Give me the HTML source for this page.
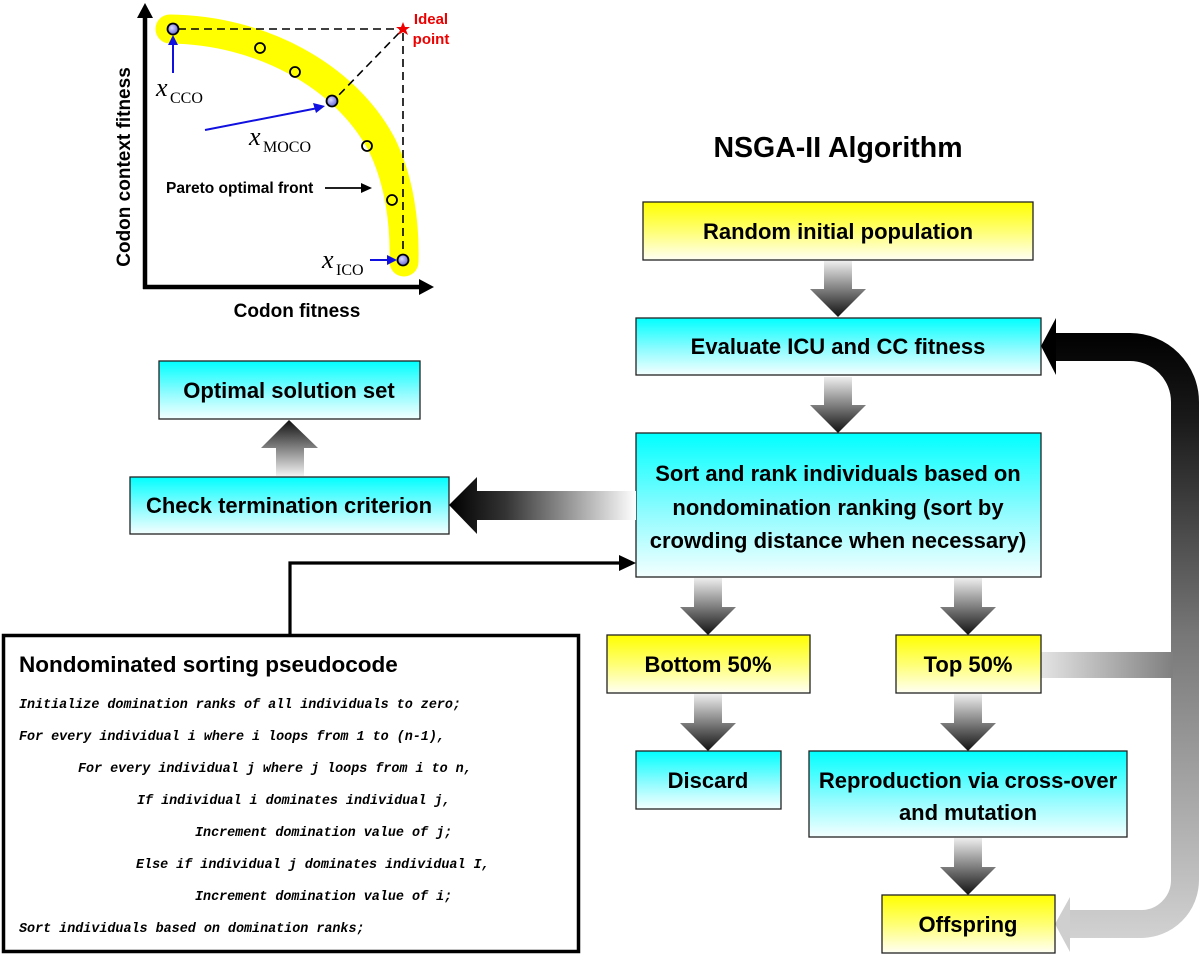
<!DOCTYPE html>
<html><head><meta charset="utf-8"><style>
html,body{margin:0;padding:0;background:#fff;width:1200px;height:955px;overflow:hidden}
svg{position:absolute;left:0;top:0}
text{font-family:"Liberation Sans",Arial,sans-serif}
.b{font-weight:bold;fill:#000}
.code{font-family:"Liberation Mono","Courier New",monospace;font-weight:bold;font-style:italic;font-size:13.4px;fill:#000}
</style></head><body>
<svg width="1200" height="955" viewBox="0 0 1200 955" xmlns="http://www.w3.org/2000/svg">
<defs>
<linearGradient id="cy" x1="0" y1="0" x2="0" y2="1"><stop offset="0" stop-color="#00ffff"/><stop offset="0.55" stop-color="#8ffcff"/><stop offset="1" stop-color="#f4ffff"/></linearGradient>
<linearGradient id="ye" x1="0" y1="0" x2="0" y2="1"><stop offset="0" stop-color="#ffff00"/><stop offset="0.55" stop-color="#ffff80"/><stop offset="1" stop-color="#fffff4"/></linearGradient>
<linearGradient id="da" x1="0" y1="0" x2="0" y2="1"><stop offset="0" stop-color="#eeeeee"/><stop offset="1" stop-color="#111"/></linearGradient>
<linearGradient id="ua" x1="0" y1="1" x2="0" y2="0"><stop offset="0" stop-color="#f2f2f2"/><stop offset="1" stop-color="#111"/></linearGradient>
<linearGradient id="la" x1="449" y1="0" x2="636" y2="0" gradientUnits="userSpaceOnUse"><stop offset="0" stop-color="#000"/><stop offset="0.3" stop-color="#333"/><stop offset="1" stop-color="#fff"/></linearGradient>
<linearGradient id="loop" x1="0" y1="330" x2="0" y2="940" gradientUnits="userSpaceOnUse"><stop offset="0" stop-color="#000"/><stop offset="0.15" stop-color="#1a1a1a"/><stop offset="0.5" stop-color="#777"/><stop offset="1" stop-color="#d2d2d2"/></linearGradient>
<linearGradient id="tb" x1="1041" y1="0" x2="1172" y2="0" gradientUnits="userSpaceOnUse"><stop offset="0" stop-color="#e4e4e4"/><stop offset="1" stop-color="#808080"/></linearGradient>
<radialGradient id="pt" cx="0.4" cy="0.4" r="0.6"><stop offset="0" stop-color="#d8d8ff"/><stop offset="1" stop-color="#6a6ad8"/></radialGradient>
</defs>

<!-- ===== Pareto graph ===== -->
<path d="M170,29 C260,30 345,75 382,145 C400,182 405,225 404,262" fill="none" stroke="#ffff00" stroke-width="29" stroke-linecap="round"/>
<g stroke="#000" stroke-width="1.6" stroke-dasharray="8,5" fill="none">
<line x1="178" y1="29" x2="400" y2="29"/>
<line x1="403" y1="33" x2="403" y2="256"/>
<line x1="399" y1="33" x2="336" y2="98"/>
</g>
<polygon points="403,22 405,27 410,27 406,30 408,35 403,32 398,35 400,30 396,27 401,27" fill="#e00"/>
<text x="431" y="24" class="b" style="fill:#e00;font-size:15px" text-anchor="middle">Ideal</text>
<text x="431" y="44" class="b" style="fill:#e00;font-size:15px" text-anchor="middle">point</text>
<g fill="none" stroke="#000" stroke-width="1.8">
<circle cx="260" cy="48" r="5"/><circle cx="295" cy="72" r="5"/><circle cx="367" cy="146" r="5"/><circle cx="392" cy="200" r="5"/>
</g>
<g fill="url(#pt)" stroke="#000" stroke-width="1.8">
<circle cx="173" cy="29" r="5.5"/><circle cx="332" cy="101" r="5.5"/><circle cx="403" cy="260" r="5.5"/>
</g>
<!-- axes -->
<line x1="145" y1="14" x2="145" y2="289" stroke="#000" stroke-width="4.5"/>
<line x1="143" y1="287" x2="422" y2="287" stroke="#000" stroke-width="4.5"/>
<polygon points="145,3 137,18 153,18" fill="#000"/>
<polygon points="434,287 419,279 419,295" fill="#000"/>
<text x="297" y="317" class="b" style="font-size:19px" text-anchor="middle">Codon fitness</text>
<text transform="translate(130,167) rotate(-90)" class="b" style="font-size:19px" text-anchor="middle">Codon context fitness</text>
<!-- blue arrows -->
<g stroke="#1010e0" stroke-width="2" fill="#1010e0">
<line x1="173" y1="73" x2="173" y2="42"/><polygon points="173,35 168,45 178,45" stroke="none"/>
<line x1="205" y1="130" x2="318" y2="108"/><polygon points="325,106 313,103 316,113" stroke="none"/>
<line x1="370" y1="260" x2="390" y2="260"/><polygon points="397,260 387,255 387,265" stroke="none"/>
</g>
<g fill="#000">
<text x="156" y="96" style="font-size:26px;font-style:italic;font-family:'Liberation Serif',serif">x</text>
<text x="170" y="103" style="font-size:16px;font-family:'Liberation Serif',serif">CCO</text>
<text x="249" y="145" style="font-size:26px;font-style:italic;font-family:'Liberation Serif',serif">x</text>
<text x="263" y="152" style="font-size:16px;font-family:'Liberation Serif',serif">MOCO</text>
<text x="322" y="268" style="font-size:26px;font-style:italic;font-family:'Liberation Serif',serif">x</text>
<text x="336" y="275" style="font-size:16px;font-family:'Liberation Serif',serif">ICO</text>
</g>
<text x="166" y="193" class="b" style="font-size:15.5px">Pareto optimal front</text>
<line x1="325" y1="188" x2="362" y2="188" stroke="#000" stroke-width="1.8"/>
<polygon points="372,188 361,183 361,193" fill="#000"/>

<!-- title -->
<text x="838" y="157" class="b" style="font-size:28.5px" text-anchor="middle">NSGA-II Algorithm</text>

<!-- ===== feedback loop ===== -->
<path d="M1055,347 H1130 A55,55 0 0 1 1185,402 V880 A44,44 0 0 1 1141,924 H1068" fill="none" stroke="url(#loop)" stroke-width="28"/>
<polygon points="1041,346 1056,318 1056,375" fill="#000"/>
<polygon points="1055,924 1070,897 1070,952" fill="#cfcfcf"/>
<rect x="1041" y="652" width="132" height="26" fill="url(#tb)"/>

<!-- ===== boxes ===== -->
<g stroke="#222" stroke-width="1.3">
<rect x="643" y="202" width="390" height="58" fill="url(#ye)"/>
<rect x="636" y="318" width="405" height="57" fill="url(#cy)"/>
<rect x="636" y="433" width="405" height="144" fill="url(#cy)"/>
<rect x="607" y="635" width="203" height="58" fill="url(#ye)"/>
<rect x="896" y="635" width="145" height="58" fill="url(#ye)"/>
<rect x="636" y="751" width="145" height="58" fill="url(#cy)"/>
<rect x="809" y="751" width="318" height="86" fill="url(#cy)"/>
<rect x="882" y="895" width="173" height="58" fill="url(#ye)"/>
<rect x="159" y="361" width="261" height="58" fill="url(#cy)"/>
<rect x="130" y="477" width="319" height="57" fill="url(#cy)"/>
</g>
<g style="font-size:22px" text-anchor="middle">
<text x="838" y="239" class="b">Random initial population</text>
<text x="838" y="354" class="b">Evaluate ICU and CC fitness</text>
<text x="838" y="481" class="b">Sort and rank individuals based on</text>
<text x="838" y="515" class="b">nondomination ranking (sort by</text>
<text x="838" y="548" class="b">crowding distance when necessary)</text>
<text x="708" y="672" class="b">Bottom 50%</text>
<text x="968" y="672" class="b">Top 50%</text>
<text x="708" y="788" class="b">Discard</text>
<text x="968" y="788" class="b">Reproduction via cross-over</text>
<text x="968" y="820" class="b">and mutation</text>
<text x="968" y="932" class="b">Offspring</text>
<text x="289" y="398" class="b">Optimal solution set</text>
<text x="289" y="513" class="b">Check termination criterion</text>
</g>

<!-- ===== down arrows ===== -->
<g fill="url(#da)">
<polygon points="824,261 852,261 852,289 866,289 838,317 810,289 824,289"/>
<polygon points="824,377 852,377 852,405 866,405 838,433 810,405 824,405"/>
<polygon points="694,578 722,578 722,607 736,607 708,635 680,607 694,607"/>
<polygon points="954,578 982,578 982,607 996,607 968,635 940,607 954,607"/>
<polygon points="694,694 722,694 722,723 736,723 708,751 680,723 694,723"/>
<polygon points="954,694 982,694 982,723 996,723 968,751 940,723 954,723"/>
<polygon points="954,838 982,838 982,867 996,867 968,895 940,867 954,867"/>
</g>
<!-- up arrow -->
<polygon points="276,476 304,476 304,448 318,448 289,420 261,448 276,448" fill="url(#ua)"/>
<!-- left arrow -->
<polygon points="449,505 477,477 477,491 636,491 636,520 477,520 477,534" fill="url(#la)"/>

<!-- connector -->
<polyline points="290,636 290,563 622,563" fill="none" stroke="#000" stroke-width="3.2"/>
<polygon points="636,563 619,555 619,571" fill="#000"/>

<!-- pseudocode box -->
<rect x="3.5" y="635.5" width="575" height="316" fill="#fff" stroke="#000" stroke-width="3.5"/>
<text x="19" y="672" class="b" style="font-size:22.5px">Nondominated sorting pseudocode</text>
<text x="19" y="708" class="code">Initialize domination ranks of all individuals to zero;</text>
<text x="19" y="740" class="code">For every individual i where i loops from 1 to (n-1),</text>
<text x="78" y="772" class="code">For every individual j where j loops from i to n,</text>
<text x="137" y="804" class="code">If individual i dominates individual j,</text>
<text x="195" y="836" class="code">Increment domination value of j;</text>
<text x="136" y="868" class="code">Else if individual j dominates individual I,</text>
<text x="195" y="900" class="code">Increment domination value of i;</text>
<text x="19" y="932" class="code">Sort individuals based on domination ranks;</text>
</svg>
</body></html>
